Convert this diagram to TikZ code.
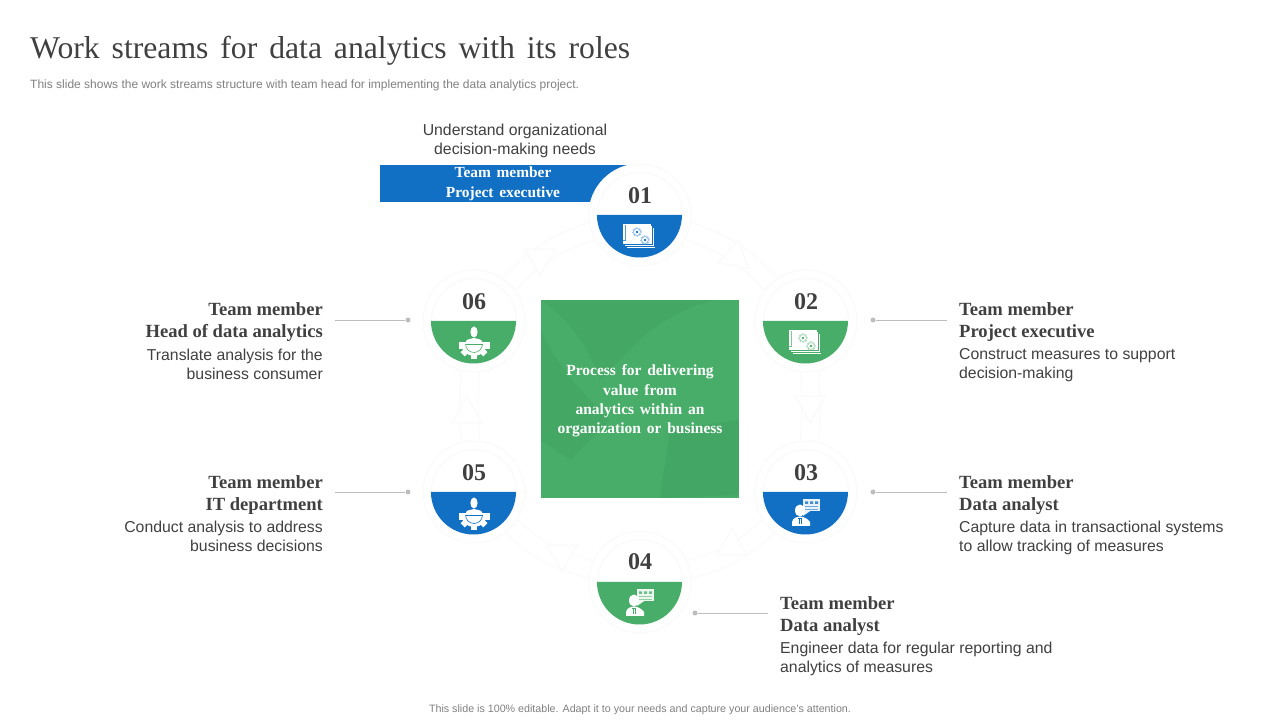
\documentclass[tikz,border=0pt]{standalone}
\usepackage{fontspec}
\setmainfont{Liberation Serif}
\setsansfont{Liberation Sans}
\newfontfamily\spacedserif[WordSpace=1.5]{Liberation Serif}
\usetikzlibrary{shapes.geometric, positioning}

\definecolor{barblue}{HTML}{1270C4}
\definecolor{leafgreen}{HTML}{47AD68}
\definecolor{inktext}{HTML}{404040}
\definecolor{faintline}{HTML}{FAFAFA}
\definecolor{leader}{HTML}{BDBDBD}

\tikzset{
    stagering/.style={circle, draw=faintline, fill=white, line width=1.1pt, minimum size=102pt, inner sep=0pt},
    stagecore/.style={circle, draw=faintline, line width=1.1pt, minimum size=85pt, inner sep=0pt},
    stagenum/.style={font=\bfseries\fontsize{24}{24}\selectfont, text=inktext, inner sep=0pt},
    flowband/.style={draw=faintline, line width=1.1pt, double=white, double distance=17pt},
    flowtip/.style={regular polygon, regular polygon sides=3, draw=faintline, fill=white, line width=1.1pt, minimum size=35pt, inner sep=0pt},
    headtext/.style={font=\bfseries\fontsize{18.6}{22}\selectfont, text=inktext, inner xsep=12pt, inner ysep=0pt},
    bodytext/.style={font=\sffamily\fontsize{15.8}{19}\selectfont, text=inktext, inner xsep=12pt, inner ysep=0pt},
    dotmark/.style={circle, fill=leader, minimum size=5pt, inner sep=0pt},
    leaderline/.style={draw=leader, line width=0.8pt},
    pics/docicon/.style={code={
        \fill[white] (-13,-13) rectangle (15,-33);
        \draw[#1, line width=0.4pt] (-13,-31.6) -- (13.8,-31.6) -- (13.8,-12);
        \fill[white] (-15,-11) rectangle (13.2,-31);
        \draw[#1, line width=0.4pt] (-15,-29.6) -- (12,-29.6) -- (12,-10);
        \fill[white] (-17,-9) rectangle (11.4,-29);
        \draw[#1!70, line width=0.4pt] (-14.5,-10) -- (-14.5,-25.5) (-17,-25.5) -- (-14.5,-25.5);
        \draw[#1!70, line width=0.7pt, densely dotted] (-3,-17) circle (4.4) (5,-25) circle (4.4);
        \draw[#1!70, line width=0.4pt] (-3,-17) circle (3.4) (5,-25) circle (3.4);
        \fill[#1] (-3,-17) circle (1.3) (5,-25) circle (1.3);
    }},
    pics/talkicon/.style={code={
        \fill[white!90!#1] (-3,-7) rectangle (14,-19);
        \fill[white!90!#1] (-1,-18) -- (-3,-24) -- (5,-18.5) -- cycle;
        \fill[#1!80] (-1,-9.5) rectangle (2,-12) (4,-9.5) rectangle (7,-12) (9,-9.5) rectangle (12,-12);
        \draw[#1!60, line width=0.4pt] (-1,-14.5) -- (12,-14.5) (-1,-16.8) -- (12,-16.8);
        \fill[white] (-6,-18.5) ellipse (5 and 6);
        \fill[white] (-14,-34) -- (-14,-30) .. controls (-13,-26) and (-10,-25) .. (-6,-24.5) .. controls (-2,-25) and (1,-26) .. (4,-30) -- (4,-34) -- cycle;
        \draw[#1, line width=0.6pt] (-6.8,-26) -- (-6.8,-32) (-4.8,-26) -- (-4.8,-32) (-8,-26) -- (-3.8,-26);
    }},
    pics/gearicon/.style={code={
        \foreach \ang in {225,270,315}
            \fill[white, rotate around={\ang:(0,-22)}] (10,-25) rectangle (16,-19);
        \fill[white] (-13,-22) arc[start angle=180, end angle=360, radius=13];
        \fill[white] (-15.5,-21) rectangle (15.5,-28);
        \fill[white] (0,-11) ellipse (3.6 and 5.5);
        \fill[white] (-8,-22) -- (-8,-20) .. controls (-7,-18) and (-3,-18) .. (0,-17) .. controls (3,-18) and (7,-18) .. (8,-20) -- (8,-22) -- cycle;
        \draw[#1, line width=0.6pt] (-8.5,-23) arc[start angle=180, end angle=360, radius=8.5];
        \draw[#1, line width=0.5pt] (-8.5,-23) -- (8.5,-23);
    }}
}

\begin{document}
\begin{tikzpicture}[x=1pt, y=1pt]
        \useasboundingbox (0,0) rectangle (1280,720);

        % title block
        \node (title) [anchor=west, inner sep=0pt, text=inktext, font=\spacedserif\fontsize{31.7}{32}\selectfont] at (30,669) {Work streams for data analytics with its roles};
        \node (subtitle) [anchor=west, inner sep=0pt, text=black!50, font=\sffamily\fontsize{12}{12}\selectfont] at (30,635) {This slide shows the work streams structure with team head for implementing the data analytics project.};
        \node (footer) [inner sep=0pt, text=black!50, font=\sffamily\fontsize{10.7}{11}\selectfont] at (640,10) {This slide is 100\% editable. Adapt it to your needs and capture your audience's attention.};

        % top label and bar
        \node (need01) [bodytext, align=center] at (515,579) {Understand organizational\\decision-making needs};
        \node (bar01) [rectangle, fill=barblue, minimum width=250pt, minimum height=37pt, inner sep=0pt] at (505,536.5) {};
        \node (bartext) [text=white, align=center, inner sep=0pt, font=\spacedserif\bfseries\fontsize{15.4}{20}\selectfont] at (503,536) {Team member\\Project executive};

        % stage rings
        \node (s01) [stagering] at (640,505) {};
        \node (s02) [stagering] at (806,399) {};
        \node (s03) [stagering] at (806,228) {};
        \node (s04) [stagering] at (640,138) {};
        \node (s05) [stagering] at (474,228) {};
        \node (s06) [stagering] at (474,399) {};

        % faint flow between the rings
        \draw [flowband] (s01) to[bend left=14] (s02);
        \draw [flowband] (s02) to[bend left=4] (s03);
        \draw [flowband] (s03) to[bend left=14] (s04);
        \draw [flowband] (s04) to[bend left=14] (s05);
        \draw [flowband] (s05) to[bend left=4] (s06);
        \draw [flowband] (s06) to[bend left=14] (s01);

        \node (tip12) [flowtip, shape border rotate=-10] at (735,463) {};
        \node (tip23) [flowtip, shape border rotate=180] at (810,315) {};
        \node (tip34) [flowtip] at (732,174) {};
        \node (tip45) [flowtip, shape border rotate=180] at (562,166) {};
        \node (tip56) [flowtip] at (467,306) {};
        \node (tip61) [flowtip, shape border rotate=180] at (540,462) {};

        % half discs
        \node (c01) [stagecore] at (s01) {};
        \node (c02) [stagecore] at (s02) {};
        \node (c03) [stagecore] at (s03) {};
        \node (c04) [stagecore] at (s04) {};
        \node (c05) [stagecore] at (s05) {};
        \node (c06) [stagecore] at (s06) {};
        \fill [barblue] (c01.west) arc[start angle=180, end angle=360, radius=42.5];
        \fill [leafgreen] (c02.west) arc[start angle=180, end angle=360, radius=42.5];
        \fill [barblue] (c03.west) arc[start angle=180, end angle=360, radius=42.5];
        \fill [leafgreen] (c04.west) arc[start angle=180, end angle=360, radius=42.5];
        \fill [barblue] (c05.west) arc[start angle=180, end angle=360, radius=42.5];
        \fill [leafgreen] (c06.west) arc[start angle=180, end angle=360, radius=42.5];

        \node (n01) [stagenum, above=19pt of s01.center, anchor=center] {01};
        \node (n02) [stagenum, above=19pt of s02.center, anchor=center] {02};
        \node (n03) [stagenum, above=19pt of s03.center, anchor=center] {03};
        \node (n04) [stagenum, above=20pt of s04.center, anchor=center] {04};
        \node (n05) [stagenum, above=19pt of s05.center, anchor=center] {05};
        \node (n06) [stagenum, above=19pt of s06.center, anchor=center] {06};

        \pic at (s01.center) {docicon=barblue};
        \pic at (s02.center) {docicon=leafgreen};
        \pic at (s03.center) {talkicon=barblue};
        \pic at (s04.center) {talkicon=leafgreen};
        \pic at (s05.center) {gearicon=barblue};
        \pic at (s06.center) {gearicon=leafgreen};

        % centre square
        \node (process) [rectangle, fill=leafgreen, minimum size=198pt, inner sep=0pt] at (640,321) {};
        \begin{scope}
            \clip (process.south west) rectangle (process.north east);
            \fill [black, opacity=0.03] (541,420) .. controls (570,400) and (590,370) .. (600,340) -- (640,380) .. controls (660,400) and (700,420) .. (720,420) -- cycle;
            \fill [black, opacity=0.03] (541,390) .. controls (560,350) and (580,330) .. (610,300) -- (570,260) -- (541,280) -- cycle;
            \fill [black, opacity=0.035] (670,290) -- (739,300) -- (739,225) -- (660,222) -- cycle;
        \end{scope}
        \node (processtext) [align=center, text=white, inner sep=0pt, font=\spacedserif\bfseries\fontsize{15.5}{19.3}\selectfont] at (640,319) {Process for delivering\\value from\\analytics within an\\organization or business};

        % left side
        \node (dot06) [dotmark] at (408,400) {};
        \node (head06) [headtext, anchor=east, align=right] at (335,398) {Team member\\Head of data analytics};
        \node (body06) [bodytext, align=right, below=7pt of head06.south east, anchor=north east] {Translate analysis for the\\business consumer};
        \draw [leaderline] (head06.east |- dot06) -- (dot06);

        \node (dot05) [dotmark] at (408,228) {};
        \node (head05) [headtext, anchor=east, align=right] at (335,225) {Team member\\IT department};
        \node (body05) [bodytext, align=right, below=6pt of head05.south east, anchor=north east] {Conduct analysis to address\\business decisions};
        \draw [leaderline] (head05.east |- dot05) -- (dot05);

        % right side
        \node (dot02) [dotmark] at (873,400) {};
        \node (head02) [headtext, anchor=west, align=left] at (947,398) {Team member\\Project executive};
        \node (body02) [bodytext, align=left, below=7pt of head02.south west, anchor=north west] {Construct measures to support\\decision-making};
        \draw [leaderline] (head02.west |- dot02) -- (dot02);

        \node (dot03) [dotmark] at (873,228) {};
        \node (head03) [headtext, anchor=west, align=left] at (947,225) {Team member\\Data analyst};
        \node (body03) [bodytext, align=left, below=6pt of head03.south west, anchor=north west] {Capture data in transactional systems\\to allow tracking of measures};
        \draw [leaderline] (head03.west |- dot03) -- (dot03);

        \node (dot04) [dotmark] at (695,107) {};
        \node (head04) [headtext, anchor=west, align=left] at (768,103.5) {Team member\\Data analyst};
        \node (body04) [bodytext, align=left, below=6pt of head04.south west, anchor=north west] {Engineer data for regular reporting and\\analytics of measures};
        \draw [leaderline] (head04.west |- dot04) -- (dot04);
\end{tikzpicture}
\end{document}
